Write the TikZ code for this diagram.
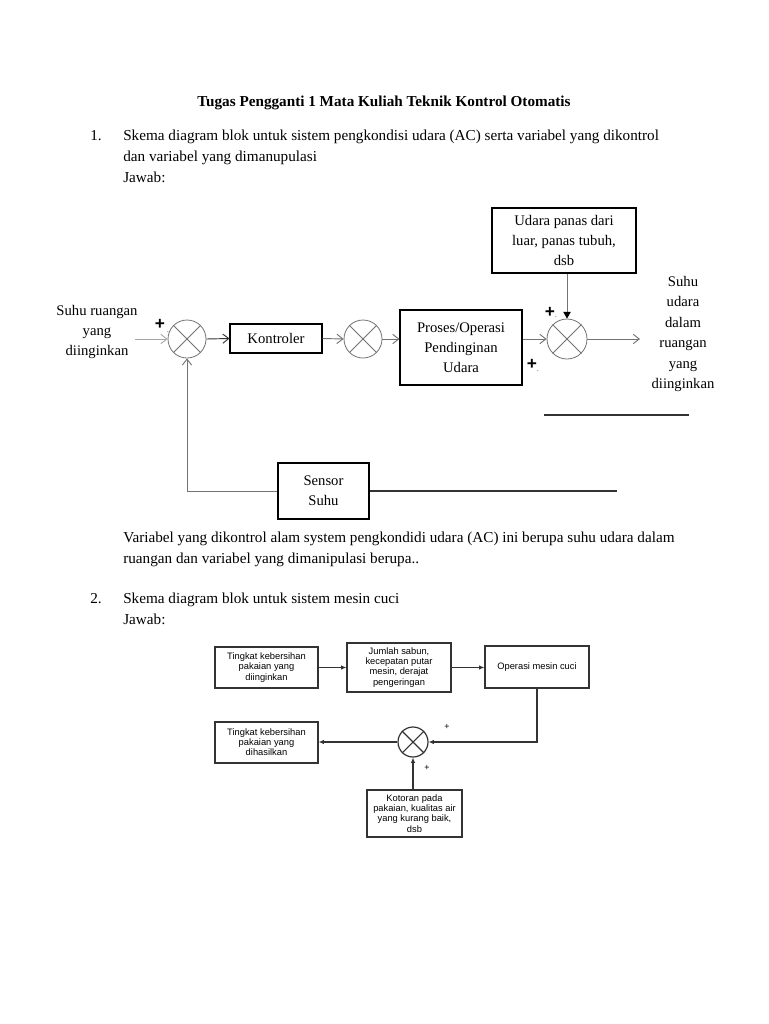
\documentclass[tikz,border=0pt]{standalone}
\usepackage{fontspec}
\setmainfont{Liberation Serif}
\newfontfamily\arialf{Liberation Sans}
\usetikzlibrary{arrows.meta}
\begin{document}
\begin{tikzpicture}[x=0.75pt,y=-0.75pt,
  body/.style={anchor=base west, inner sep=0, font=\fontsize{11.4}{15.75}\selectfont},
  blk/.style={draw, line width=0.8pt, inner sep=0, align=center, font=\fontsize{11}{15}\selectfont},
  lbl/.style={inner sep=0, align=center, font=\fontsize{11}{15}\selectfont},
  sumc/.style={circle, draw=black!55, line width=0.6pt, minimum size=28.5pt, inner sep=0},
  oarr/.style={-{Straight Barb[length=4.5pt,width=7pt]}, draw=black!55, line width=0.7pt},
  plain/.style={draw=black!80, line width=0.8pt},
  plus/.style={inner sep=0, font=\arialf\fontsize{13}{13}\selectfont\bfseries},
  dotl/.style={inner sep=0, font=\fontsize{5}{5}\selectfont},
  blktwo/.style={draw=black!80, line width=0.9pt, inner sep=0, align=center, font=\arialf\fontsize{7}{7.6}\selectfont},
  farr/.style={-{Latex[length=4pt,width=3.5pt]}, draw=black!80, line width=1.1pt},
  plustwo/.style={inner sep=0, font=\arialf\fontsize{6.6}{6.6}\selectfont}
]
\useasboundingbox[fill=white] (0,0) rectangle (768,1024);

% ---------- text ----------
\node[inner sep=0, anchor=base, font=\fontsize{11.4}{15.75}\selectfont\bfseries] (title) at (384,107) {Tugas Pengganti 1 Mata Kuliah Teknik Kontrol Otomatis};
\node[body] (n1) at (90,140) {1.};
\node[body] (t1a) at (123,140) {Skema diagram blok untuk sistem pengkondisi udara (AC) serta variabel yang dikontrol};
\node[body] (t1b) at (123,161) {dan variabel yang dimanupulasi};
\node[body] (t1c) at (123,182) {Jawab:};

\node[body] (t2a) at (123,542) {Variabel yang dikontrol alam system pengkondidi udara (AC) ini berupa suhu udara dalam};
\node[body] (t2b) at (123,563) {ruangan dan variabel yang dimanipulasi berupa..};
\node[body] (n2) at (90,603) {2.};
\node[body] (t3a) at (123,603) {Skema diagram blok untuk sistem mesin cuci};
\node[body] (t3b) at (123,624) {Jawab:};

% ---------- diagram 1 ----------
\node[lbl] (inl) at (97,332) {Suhu ruangan\\yang\\diinginkan};
\coordinate (ins) at (135,339);
\node[sumc] (s1) at (187,339) {};
\node[blk, minimum width=69pt, minimum height=21.75pt] (kon) at (276,338.5) {Kontroler};
\node[sumc] (s2) at (363,339) {};
\node[blk, minimum width=91.5pt, minimum height=56.25pt] (pro) at (461,347.5) {Proses/Operasi\\Pendinginan\\Udara};
\node[sumc, minimum size=30pt] (s3) at (567,339) {};
\node[blk, minimum width=108pt, minimum height=48.75pt] (ud) at (564,240.5) {Udara panas dari\\luar, panas tubuh,\\dsb};
\node[lbl, font=\fontsize{11}{15.3}\selectfont] (outl) at (683,334) {Suhu\\udara\\dalam\\ruangan\\yang\\diinginkan};
\coordinate (outs) at (640,339);
\node[blk, minimum width=68.25pt, minimum height=42pt] (sen) at (323.5,491) {Sensor\\Suhu};
\coordinate (senr) at (617,491);
\coordinate (hl1) at (544,415);
\coordinate (hl2) at (689,415);

\foreach \s in {s1,s2,s3}{
  \draw[draw=black!55, line width=0.6pt] (\s.north east) -- (\s.south west) (\s.north west) -- (\s.south east);
}

\draw[oarr, draw=black!35] (ins) -- (s1.west);
\draw[oarr, draw=black!80] (s1.east) -- (kon.west);
\draw[oarr] (kon.east) -- (s2.west);
\draw[oarr] (s2.east) -- (s2.east -| pro.west);
\draw[oarr] (pro.east |- s3) -- (s3.west);
\draw[oarr] (s3.east) -- (outs);
\draw[draw=black!55, line width=0.7pt, -{Triangle[length=5pt,width=5.5pt,color=black]}] (ud.south -| s3) -- (s3.north);
\draw[oarr] (sen.west) -| (s1.south);
\draw[plain] (sen.east) -- (senr);
\draw[plain] (hl1) -- (hl2);

\node[plus] (p1) at (160,324) {+};
\node[dotl] (d1) at (168,332) {.};
\node[plus] (p2) at (550,312) {+};
\node[dotl] (d2) at (556,317) {.};
\node[plus] (p3) at (532,364) {+};
\node[dotl] (d3) at (538,371) {.};

% ---------- diagram 2 ----------
\node[blktwo, minimum width=77.25pt, minimum height=30.75pt] (A) at (266.5,667.5) {Tingkat kebersihan\\pakaian yang\\diinginkan};
\node[blktwo, minimum width=78pt, minimum height=36.75pt] (B) at (399,667.5) {Jumlah sabun,\\kecepatan putar\\mesin, derajat\\pengeringan};
\node[blktwo, minimum width=78pt, minimum height=31.5pt] (C) at (537,667) {Operasi mesin cuci};
\node[blktwo, minimum width=77.25pt, minimum height=30.75pt] (D) at (266.5,742.5) {Tingkat kebersihan\\pakaian yang\\dihasilkan};
\node[blktwo, minimum width=71.25pt, minimum height=35.25pt] (E) at (414.5,813.5) {Kotoran pada\\pakaian, kualitas air\\yang kurang baik,\\dsb};
\node[circle, draw=black!80, line width=0.9pt, minimum size=22.5pt, inner sep=0] (s4) at (413,742) {};
\draw[draw=black!80, line width=0.8pt] (s4.north east) -- (s4.south west) (s4.north west) -- (s4.south east);

\draw[farr] (A.east) -- (B.west);
\draw[farr] (B.east) -- (B.east -| C.west);
\draw[farr] (C.south) |- (s4.east);
\draw[farr] (s4.west) -- (s4.west -| D.east);
\draw[farr] (s4 |- E.north) -- (s4.south);
\node[plustwo] (p4) at (447,727) {+};
\node[plustwo] (p5) at (427,768) {+};
\end{tikzpicture}
\end{document}
